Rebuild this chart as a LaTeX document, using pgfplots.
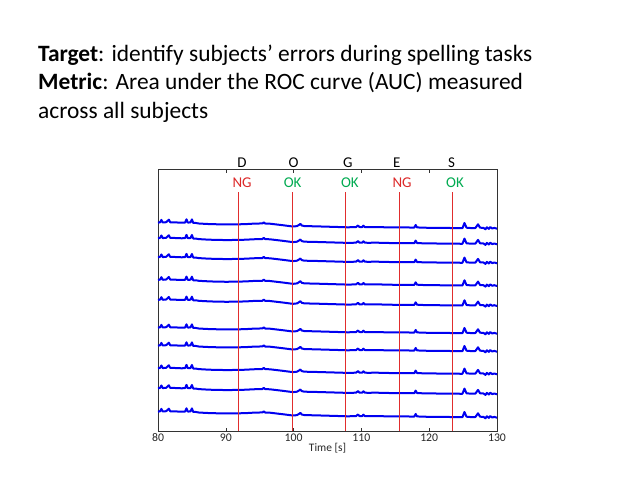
\documentclass[border=0pt]{standalone}
\usepackage{fontspec}
\setmainfont{Carlito}
\usepackage{pgfplots}
\pgfplotsset{compat=1.18}
\usepackage{pgfplotstable}

% common trace shape (offset in px, positive up)
\pgfplotstableread{
x y
80.0 0
80.3 0.4
80.5 2.8
80.7 0.2
81.2 0.5
81.6 3.0
81.8 0.4
82.5 0.3
83.5 0.0
84.0 0.2
84.2 3.4
84.4 0.1
84.8 0.3
85.0 3.3
85.2 -0.3
85.6 -0.3
86.0 -0.8
87.0 -1.2
88.0 -1.5
89.0 -1.6
90.0 -1.8
91.0 -1.7
92.0 -1.6
93.0 -1.4
94.0 -1.0
95.0 -0.8
95.4 -0.8
95.6 0.4
95.8 -0.8
96.5 -1.0
97.5 -1.8
98.5 -2.6
99.5 -3.5
100.0 -3.8
100.5 -3.4
100.8 -2.2
101.0 -1.2
101.2 -2.8
101.6 -3.4
103.0 -3.6
104.0 -3.8
105.0 -4.0
106.0 -4.2
107.0 -4.4
108.0 -4.6
109.2 -4.4
109.5 -2.8
109.7 -4.3
110.1 -4.4
110.3 -3.0
110.5 -4.4
111.0 -4.5
112.0 -4.4
113.0 -4.5
114.0 -4.7
115.0 -4.8
116.0 -4.8
117.0 -4.8
117.8 -4.9
118.0 -2.3
118.2 -4.7
119.0 -5.0
120.0 -5.1
121.0 -5.2
122.0 -5.3
123.0 -5.3
124.0 -5.4
124.9 -5.5
125.2 -0.3
125.5 -5.0
126.0 -5.3
126.8 -5.4
127.2 -1.6
127.5 -5.0
128.0 -5.2
128.3 -6.6
128.5 -4.6
128.8 -6.2
129.0 -4.4
129.3 -5.8
129.6 -5.2
130.0 -6.0
}\template

\definecolor{trace}{RGB}{0,0,240}
\definecolor{redline}{RGB}{225,45,45}
\definecolor{ngred}{RGB}{220,40,40}
\definecolor{okgreen}{RGB}{0,170,80}

\begin{document}
\begin{tikzpicture}[x=1bp,y=1bp]
\path[use as bounding box] (0,0) rectangle (638,478);
\node[anchor=base west,inner sep=0pt,font=\fontsize{23.5}{28}\selectfont] at (38,{478-61.7}) {\textbf{Target}: identify subjects’ errors during spelling tasks};
\node[anchor=base west,inner sep=0pt,font=\fontsize{23.5}{28}\selectfont] at (38,{478-90}) {\textbf{Metric}: Area under the ROC curve (AUC) measured};
\node[anchor=base west,inner sep=0pt,font=\fontsize{23.5}{28}\selectfont] at (38,{478-118.3}) {across all subjects};

\begin{axis}[
  at={(158bp,46.5bp)}, anchor=south west,
  width=339bp, height=262bp, scale only axis,
  xmin=80, xmax=130, ymin=0, ymax=262,
  xtick={80,90,...,130}, ytick=\empty,
  tick align=inside, xtick pos=both,
  major tick length=3.5bp,
  axis line style={draw=black!80, line width=0.6bp},
  every tick/.style={black!80, line width=0.5bp},
  tick label style={font=\fontsize{11.8}{13}\selectfont, text=black!85},
  /pgf/number format/assume math mode=true,
  xticklabel style={yshift=2bp, text height=8bp, text depth=0bp},
  xlabel={Time [s]},
  xlabel style={font=\fontsize{11.5}{12}\selectfont, text=black!85, yshift=5bp},
  clip=false,
]
\foreach \off in {208.8,193.2,174.2,151.5,131.5,103.8,85.8,63.2,43.2,19.8} {
  \addplot[trace, line width=2bp, line join=round] table[x=x, y expr=\thisrow{y}+\off] {\template};
}
\addplot[redline, line width=1.1bp] coordinates {(91.9,0) (91.9,239.5)};
\addplot[redline, line width=1.1bp] coordinates {(99.85,0) (99.85,239.5)};
\addplot[redline, line width=1.1bp] coordinates {(107.7,0) (107.7,239.5)};
\addplot[redline, line width=1.1bp] coordinates {(115.6,0) (115.6,239.5)};
\addplot[redline, line width=1.1bp] coordinates {(123.5,0) (123.5,239.5)};
\node[font=\fontsize{15}{16}\selectfont] at (axis cs:92.4,268.8) {D};
\node[font=\fontsize{15}{16}\selectfont] at (axis cs:100.0,268.8) {O};
\node[font=\fontsize{15}{16}\selectfont] at (axis cs:108.0,268.8) {G};
\node[font=\fontsize{15}{16}\selectfont] at (axis cs:115.2,268.8) {E};
\node[font=\fontsize{15}{16}\selectfont] at (axis cs:123.3,268.8) {S};
\node[font=\fontsize{15}{16}\selectfont, text=ngred] at (axis cs:92.4,249.2) {NG};
\node[font=\fontsize{15}{16}\selectfont, text=okgreen] at (axis cs:99.85,249.2) {OK};
\node[font=\fontsize{15}{16}\selectfont, text=okgreen] at (axis cs:108.3,249.2) {OK};
\node[font=\fontsize{15}{16}\selectfont, text=ngred] at (axis cs:116.0,249.2) {NG};
\node[font=\fontsize{15}{16}\selectfont, text=okgreen] at (axis cs:123.8,249.2) {OK};
\end{axis}
\end{tikzpicture}
\end{document}
